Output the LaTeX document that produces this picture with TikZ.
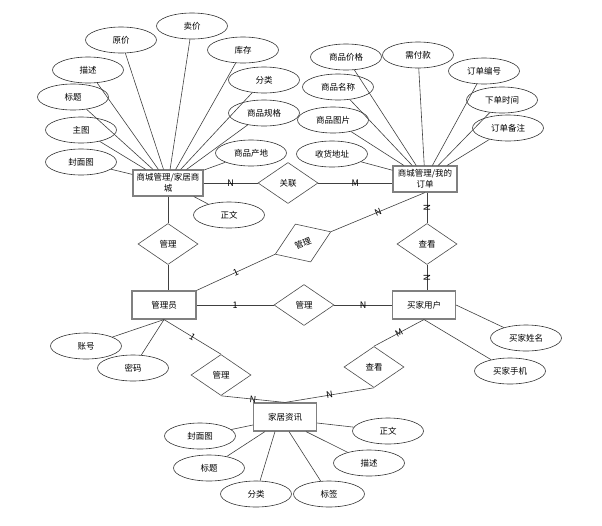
\documentclass[tikz,border=0pt]{standalone}
\usepackage{fontspec}
\setmainfont{Noto Sans CJK SC}
\usetikzlibrary{shapes.geometric}
\begin{document}
\begin{tikzpicture}[x=1pt,y=-1pt,
  every node/.style={font=\fontsize{8.5}{11}\selectfont, text=black},
  ent/.style={draw=black!50, line width=1.1pt, rectangle, inner sep=1pt, align=center},
  attr/.style={draw=black!80, line width=0.6pt, ellipse, minimum width=71pt, minimum height=26pt, inner sep=0pt},
  rel/.style={draw=black!70, line width=0.6pt, diamond, minimum width=60pt, minimum height=41pt, inner sep=0pt},
  conn/.style={draw=black!75, line width=0.6pt},
  card/.style={midway, sloped, inner sep=0pt, font=\fontsize{9}{9}\selectfont}
]
\useasboundingbox (0,0) rectangle (602,525);

% entities
\node[ent, minimum width=70pt, minimum height=26pt] (E1) at (168,183) {商城管理/家居商\\城};
\node[ent, minimum width=64pt, minimum height=26pt] (E2) at (425,179) {商城管理/我的\\订单};
\node[ent, minimum width=64pt, minimum height=28pt] (admin) at (164,305) {管理员};
\node[ent, minimum width=63pt, minimum height=28pt] (buyer) at (424,305) {买家用户};
\node[ent, minimum width=63pt, minimum height=28pt] (news) at (285,417) {家居资讯};

% relations
\node[rel] (gl) at (288,183) {关联};
\node[rel] (m1) at (168,244) {管理};
\node[rel, rotate=22] (m2) at (303,243) {管理};
\node[rel] (m3) at (304,305) {管理};
\node[rel] (c1) at (427,244) {查看};
\node[rel] (m4) at (221,375) {管理};
\node[rel] (c2) at (374,367) {查看};

% attributes of E1
\node[attr] (a1) at (121,40) {原价};
\node[attr] (a2) at (192,26) {卖价};
\node[attr] (a3) at (243,50) {库存};
\node[attr] (a4) at (88,70) {描述};
\node[attr] (a5) at (264,80) {分类};
\node[attr] (a6) at (73,97) {标题};
\node[attr] (a7) at (264,113) {商品规格};
\node[attr] (a8) at (81,130) {主图};
\node[attr] (a9) at (251,153) {商品产地};
\node[attr] (a10) at (81,162) {封面图};
\node[attr] (a11) at (229,215) {正文};

% attributes of E2
\node[attr] (b1) at (346,57) {商品价格};
\node[attr] (b2) at (418,55) {需付款};
\node[attr] (b3) at (484,71) {订单编号};
\node[attr] (b4) at (338,87) {商品名称};
\node[attr] (b5) at (502,100) {下单时间};
\node[attr] (b6) at (333,120) {商品图片};
\node[attr] (b7) at (508,128) {订单备注};
\node[attr] (b8) at (332,154) {收货地址};

% attributes of admin / buyer
\node[attr] (d1) at (86,346) {账号};
\node[attr] (d2) at (133,368) {密码};
\node[attr] (u1) at (526,338) {买家姓名};
\node[attr] (u2) at (510,371) {买家手机};

% attributes of news
\node[attr] (n1) at (200,436) {封面图};
\node[attr] (n2) at (388,431) {正文};
\node[attr] (n3) at (209,468) {标题};
\node[attr] (n4) at (369,463) {描述};
\node[attr] (n5) at (256,494) {分类};
\node[attr] (n6) at (329,494) {标签};

% attribute links
\foreach \a in {a1,a2,a3,a4,a5,a6,a7,a8,a9,a10,a11}
  \draw[conn] (\a) -- (E1);
\foreach \b in {b1,b2,b3,b4,b5,b6,b7,b8}
  \draw[conn] (\b) -- (E2);
\draw[conn] (d1) -- (admin.south);
\draw[conn] (d2) -- (admin.south);
\draw[conn] (u1) -- (buyer.east);
\draw[conn] (u2) -- (buyer.south);
\draw[conn] (n1) -- ([yshift=-8pt]news.west);
\draw[conn] (n3) -- ([xshift=-20pt]news.south);
\draw[conn] (n5) -- ([xshift=-10pt]news.south);
\draw[conn] (n6) -- ([xshift=4pt]news.south);
\draw[conn] (n4) -- ([xshift=21pt]news.south);
\draw[conn] (n2) -- ([yshift=-6pt]news.east);

% relationship links
\draw[conn] (E1.east |- gl.west) -- (gl.west) node[card]{N};
\draw[conn] (gl.east) -- (gl.east -| E2.west) node[card]{M};
\draw[conn] (E1.south) -- (m1.north);
\draw[conn] (m1.south) -- (m1.south |- admin.north);
\draw[conn] (admin.north east) -- (m2.west) node[card]{1};
\draw[conn] (m2.east) -- (E2.south) node[card]{N};
\draw[conn] (c1.north |- E2.south) -- (c1.north) node[card]{N};
\draw[conn] (c1.south) -- (c1.south |- buyer.north) node[card]{N};
\draw[conn] (admin.east) -- (m3.west) node[card]{1};
\draw[conn] (m3.east) -- (buyer.west) node[card]{N};
\draw[conn] (admin.south) -- (m4.north) node[card]{1};
\draw[conn] (m4.south) -- (news.north) node[card]{N};
\draw[conn] (c2.south) -- (news.north) node[card]{N};
\draw[conn] (buyer.south) -- (c2.north) node[card]{M};
\end{tikzpicture}
\end{document}
